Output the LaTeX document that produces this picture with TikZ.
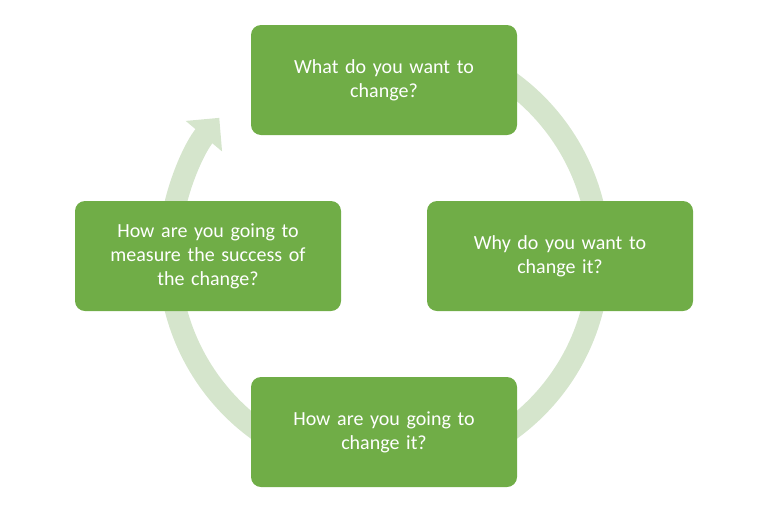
\documentclass[tikz,border=0pt]{standalone}
\usepackage{fontspec}
\setmainfont{Carlito}
\usetikzlibrary{arrows.meta}
\definecolor{boxg}{HTML}{70AD47}
\definecolor{ringg}{HTML}{D5E5CC}
\begin{document}
\begin{tikzpicture}[x=1pt,y=-1pt,
  stepbox/.style={fill=boxg,rounded corners=10pt,minimum width=266pt,minimum height=110pt,text width=256pt,align=center,text=white,font=\fontsize{20}{24}\selectfont}]
\useasboundingbox (0,0) rectangle (768,512);
\coordinate (c) at (384,256);
\draw[ringg,line width=22pt,-{Triangle[length=24pt,width=46pt]}] (c) ++(-80:215) arc[start angle=-80,end angle=220,radius=215];
\node[stepbox] (a) at (384,80) {What do you want to\\ change?};
\node[stepbox] (b) at (560,256) {Why do you want to\\ change it?};
\node[stepbox] (d) at (384,432) {How are you going to\\ change it?};
\node[stepbox] (e) at (208,256) {How are you going to\\ measure the success of\\ the change?};
\end{tikzpicture}
\end{document}
